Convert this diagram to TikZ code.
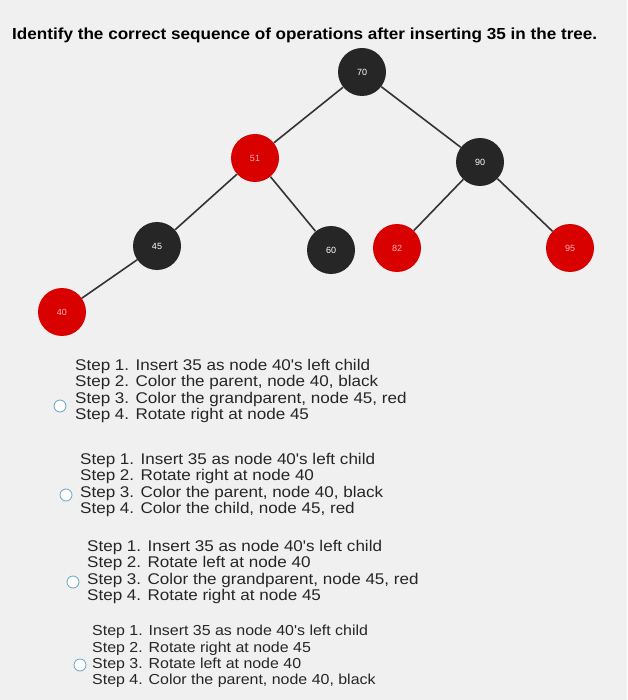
\documentclass[tikz,border=0pt]{standalone}
\usepackage{fontspec}
\setmainfont{Liberation Sans}
\newfontfamily\optfont[FakeStretch=1.1]{Liberation Sans}
\newfontfamily\titlefont[FakeStretch=1.07]{Liberation Sans}
\begin{document}
\begin{tikzpicture}[x=1pt,y=-1pt,
  bn/.style={circle,fill=black!85,minimum size=48pt,inner sep=0pt,text=white!85,font=\fontsize{9}{10}\selectfont},
  rn/.style={circle,fill=red!85!black,minimum size=48pt,inner sep=0pt,text=white!70!red,font=\fontsize{9}{10}\selectfont},
  edge/.style={black!80,line width=1.6pt},
  opt/.style={anchor=north west,align=left,font=\optfont\fontsize{15.5}{16.5}\selectfont,text=black!85,inner sep=0pt},
  radio/.style={circle,draw=cyan!50!gray,line width=0.8pt,fill=white,minimum size=12pt,inner sep=0pt}]
\fill[black!6] (0,0) rectangle (627,700);
\useasboundingbox (0,0) rectangle (627,700);
\node[anchor=west,font=\titlefont\bfseries\fontsize{16}{18}\selectfont,inner sep=0pt] (title) at (12,35) {Identify the correct sequence of operations after inserting 35 in the tree.};
\node[bn] (n70) at (362,72) {70};
\node[rn] (n51) at (255,158) {51};
\node[bn] (n90) at (480,162) {90};
\node[bn] (n45) at (157,246) {45};
\node[bn] (n60) at (331,250) {60};
\node[rn] (n82) at (397,248) {82};
\node[rn] (n95) at (570,248) {95};
\node[rn] (n40) at (62,312) {40};
\draw[edge] (n70) -- (n51); \draw[edge] (n70) -- (n90);
\draw[edge] (n51) -- (n45); \draw[edge] (n51) -- (n60);
\draw[edge] (n90) -- (n82); \draw[edge] (n90) -- (n95);
\draw[edge] (n45) -- (n40);
\node[opt] (o1) at (75,359) {Step 1. Insert 35 as node 40's left child\\Step 2. Color the parent, node 40, black\\Step 3. Color the grandparent, node 45, red\\Step 4. Rotate right at node 45};
\node[radio] (r1) at (60,406) {};
\node[opt] (o2) at (80,453) {Step 1. Insert 35 as node 40's left child\\Step 2. Rotate right at node 40\\Step 3. Color the parent, node 40, black\\Step 4. Color the child, node 45, red};
\node[radio] (r2) at (66,495) {};
\node[opt] (o3) at (87,540) {Step 1. Insert 35 as node 40's left child\\Step 2. Rotate left at node 40\\Step 3. Color the grandparent, node 45, red\\Step 4. Rotate right at node 45};
\node[radio] (r3) at (73,582) {};
\node[opt,font=\optfont\fontsize{14.5}{16.3}\selectfont] (o4) at (92,625) {Step 1. Insert 35 as node 40's left child\\Step 2. Rotate right at node 45\\Step 3. Rotate left at node 40\\Step 4. Color the parent, node 40, black};
\node[radio] (r4) at (80,665) {};
\end{tikzpicture}
\end{document}
